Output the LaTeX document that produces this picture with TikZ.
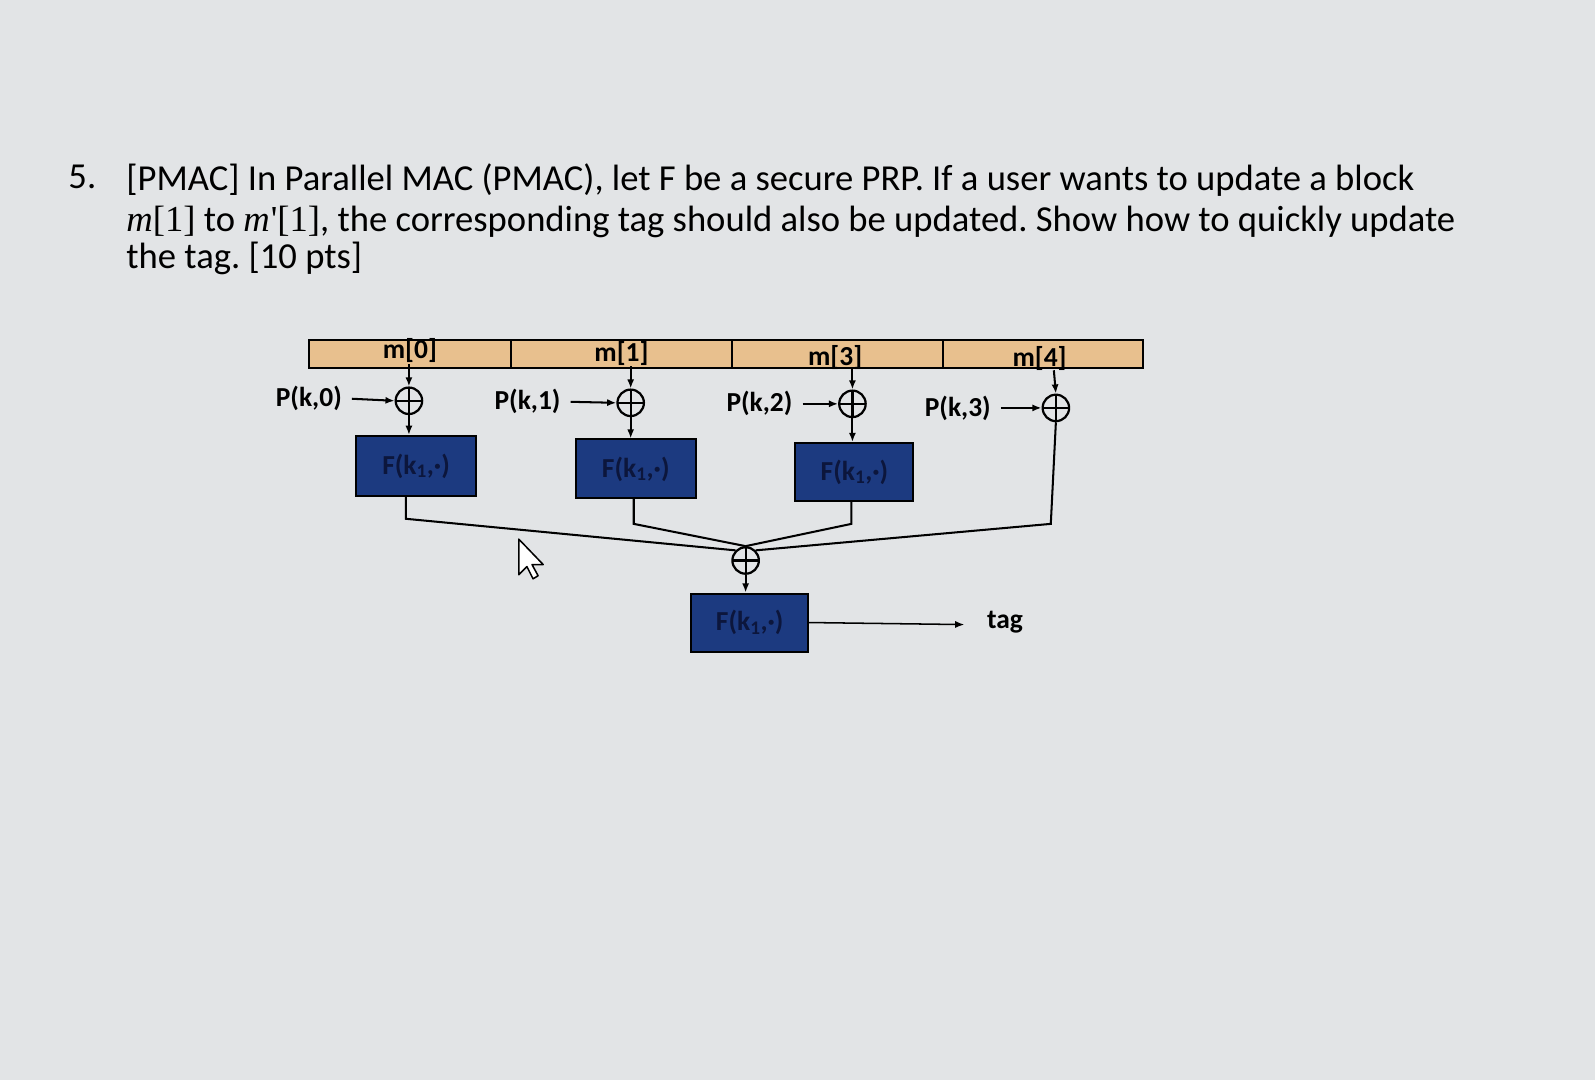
\documentclass[tikz,border=0pt]{standalone}
\usepackage{fontspec}
\setmainfont{Carlito}
\newfontfamily\serifm{Liberation Serif}
\newcommand{\mm}[1]{{\serifm\itshape m}{#1}{\serifm[1]}}
\usetikzlibrary{arrows.meta}
\definecolor{bg}{RGB}{226,228,230}
\definecolor{tan}{RGB}{232,192,142}
\definecolor{fblue}{RGB}{28,58,128}
\definecolor{ftext}{RGB}{12,22,60}
\frenchspacing
\begin{document}
\begin{tikzpicture}[x=1pt,y=-1pt,line width=2pt,
  xorn/.style={circle,draw,line width=2.2pt,minimum size=26pt,inner sep=0pt,path picture={\draw[line width=2.2pt] (path picture bounding box.north)--(path picture bounding box.south) (path picture bounding box.west)--(path picture bounding box.east);}},
  fbox/.style={draw=black,line width=2pt,fill=fblue,text=ftext,font=\fontsize{27}{30}\selectfont\bfseries,inner sep=0pt},
  lab/.style={font=\fontsize{27}{30}\selectfont\bfseries,inner sep=1pt},
  qt/.style={anchor=base west,font=\fontsize{36}{40}\selectfont},
  ar/.style={-{Latex[length=9pt,width=7pt]},line width=2pt},
  ln/.style={line width=2pt}]
\fill[bg] (0,0) rectangle (1568,1062);
\useasboundingbox (0,0) rectangle (1568,1062);
% question text
\node[qt] (num) at (63,185) {5.};
\node[qt] (q1) at (120,187) {[PMAC] In Parallel MAC (PMAC), let F be a secure PRP. If a user wants to update a block};
\node[qt] (q2) at (120,228) {\mm{} to \mm{\serifm\kern1pt'}, the corresponding tag should also be updated. Show how to quickly update};
\node[qt] (q3) at (120,264) {the tag. [10 pts]};
% message bar
\draw[fill=tan] (304,334) rectangle (1124,362);
\foreach \x in {502,720,927} \draw (\x,334)--(\x,362);
\node[lab] (m0) at (403,345) {m[0]};
\node[lab] (m1) at (611,348) {m[1]};
\node[lab] (m3) at (821,351) {m[3]};
\node[lab] (m4) at (1022,352) {m[4]};
% xors
\node[xorn] (x0) at (402,394) {};
\node[xorn] (x1) at (620,396) {};
\node[xorn] (x2) at (838,397) {};
\node[xorn] (x3) at (1038,401) {};
\node[lab,anchor=east] (p0) at (338,392) {P(k,0)};
\node[lab,anchor=east] (p1) at (553,395) {P(k,1)};
\node[lab,anchor=east] (p2) at (781,397) {P(k,2)};
\node[lab,anchor=east] (p3) at (976,401) {P(k,3)};
\foreach \p/\x in {p0/x0,p1/x1,p2/x2,p3/x3} \draw[ar] (\p.east) ++(8,0) -- (\x.west);
\draw[ar] (402,358) -- (x0.north);
\draw[ar] (620,360) -- (x1.north);
\draw[ar] (838,362) -- (x2.north);
\draw[ar] (1036,364) -- (x3.north);
% F boxes
\node[fbox,minimum width=118pt,minimum height=59pt] (f0) at (409,458) {F(k$_{\mathbf 1}$,·)};
\node[fbox,minimum width=118pt,minimum height=58pt] (f1) at (625,461) {F(k$_{\mathbf 1}$,·)};
\node[fbox,minimum width=116pt,minimum height=57pt] (f2) at (840,464) {F(k$_{\mathbf 1}$,·)};
\draw[ar] (x0.south) -- (f0.north -| x0);
\draw[ar] (x1.south) -- (f1.north -| x1);
\draw[ar] (x2.south) -- (f2.north -| x2);
% final xor
\node[xorn] (xf) at (733,551) {};
\draw[ln] (399,487) -- (399,510) -- (xf.north west);
\draw[ln] (623,490) -- (623,515) -- (xf.north);
\draw[ln] (837,492) -- (837,515) -- (xf.north);
\draw[ln] (x3.south) -- (1033,515) -- (xf.north east);
\node[fbox,minimum width=115pt,minimum height=57pt] (ff) at (737,612) {F(k$_{\mathbf 1}$,·)};
\draw[ar] (xf.south) -- (ff.north -| xf);
\node[lab] (tag) at (988,612) {tag};
\draw[ar,line width=1.5pt] (ff.east) -- (948,614);
% cursor
\draw[fill=white,line width=1.5pt,line join=round] (510,530) -- (510,565) -- (518,557) -- (524,569) -- (529,566) -- (523,555) -- (534,555) -- cycle;
\end{tikzpicture}
\end{document}
